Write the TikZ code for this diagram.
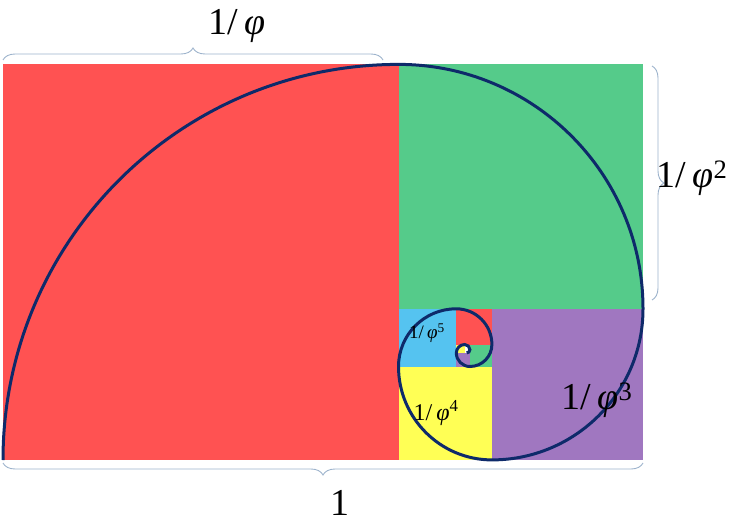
\documentclass[tikz,border=0pt]{standalone}
\usepackage{fontspec}
\setmainfont{Liberation Serif}
\usetikzlibrary{decorations.pathreplacing}
\definecolor{sqred}{HTML}{FF5252}
\definecolor{sqgreen}{HTML}{55CB8A}
\definecolor{sqpurple}{HTML}{A077C0}
\definecolor{sqyellow}{HTML}{FFFF55}
\definecolor{sqblue}{HTML}{55C3F0}
\definecolor{spiral}{HTML}{0E2A6A}
\definecolor{bracecol}{HTML}{9DB3CC}
\newcommand{\phinv}[1]{1/\,\textit{φ}\textsuperscript{#1}}
\begin{document}
\begin{tikzpicture}[x=1pt, y=1pt,
    brc/.style={draw=bracecol, line width=0.9pt, decorate, decoration={brace, amplitude=12pt}},
    lbl/.style={inner sep=0pt}]
    \useasboundingbox (0,0) rectangle (741,523);
    % squares
    \fill[sqred] (3,63) rectangle (398.6,458.6);
    \fill[sqgreen] (398.6,214.2) rectangle (643,458.6);
    \fill[sqpurple] (491.9,63) rectangle (643,214.2);
    \fill[sqyellow] (398.6,63) rectangle (491.9,156.4);
    \fill[sqblue] (398.6,156.4) rectangle (456.3,214.2);
    \fill[sqred] (456.3,178.5) rectangle (492,214.2);
    \fill[sqgreen] (469.9,156.4) rectangle (491.9,178.5);
    \fill[sqpurple] (456.3,156.4) rectangle (469.9,170);
    \fill[sqyellow] (456.3,170) rectangle (464.7,178.5);
    % spiral
    \draw[spiral, line width=3pt] (3,63)
        arc (180:90:395.6) arc (90:0:244.4) arc (0:-90:151.1) arc (-90:-180:93.4)
        arc (180:90:57.7) arc (90:0:35.7) arc (0:-90:22) arc (-90:-180:13.6)
        arc (180:90:8.4) arc (90:0:5.2) arc (0:-90:3.2);
    % braces
    \draw[brc] (3,463) -- (383,463);
    \draw[brc] (652,457) -- (652,223);
    \draw[brc] (643,60) -- (3,60);
    % labels
    \node[lbl] (A) at (237,497) {\fontsize{38}{38}\selectfont \phinv{}};
    \node[lbl] (B) at (692,345) {\fontsize{38}{38}\selectfont \phinv{2}};
    \node[lbl] (C) at (340,20) {\fontsize{38}{38}\selectfont 1};
    \node[lbl] (D) at (597,123) {\fontsize{38}{38}\selectfont \phinv{3}};
    \node[lbl] (E) at (436,110) {\fontsize{24}{24}\selectfont \phinv{4}};
    \node[lbl] (F) at (427,190) {\fontsize{19}{19}\selectfont \phinv{5}};
\end{tikzpicture}
\end{document}
